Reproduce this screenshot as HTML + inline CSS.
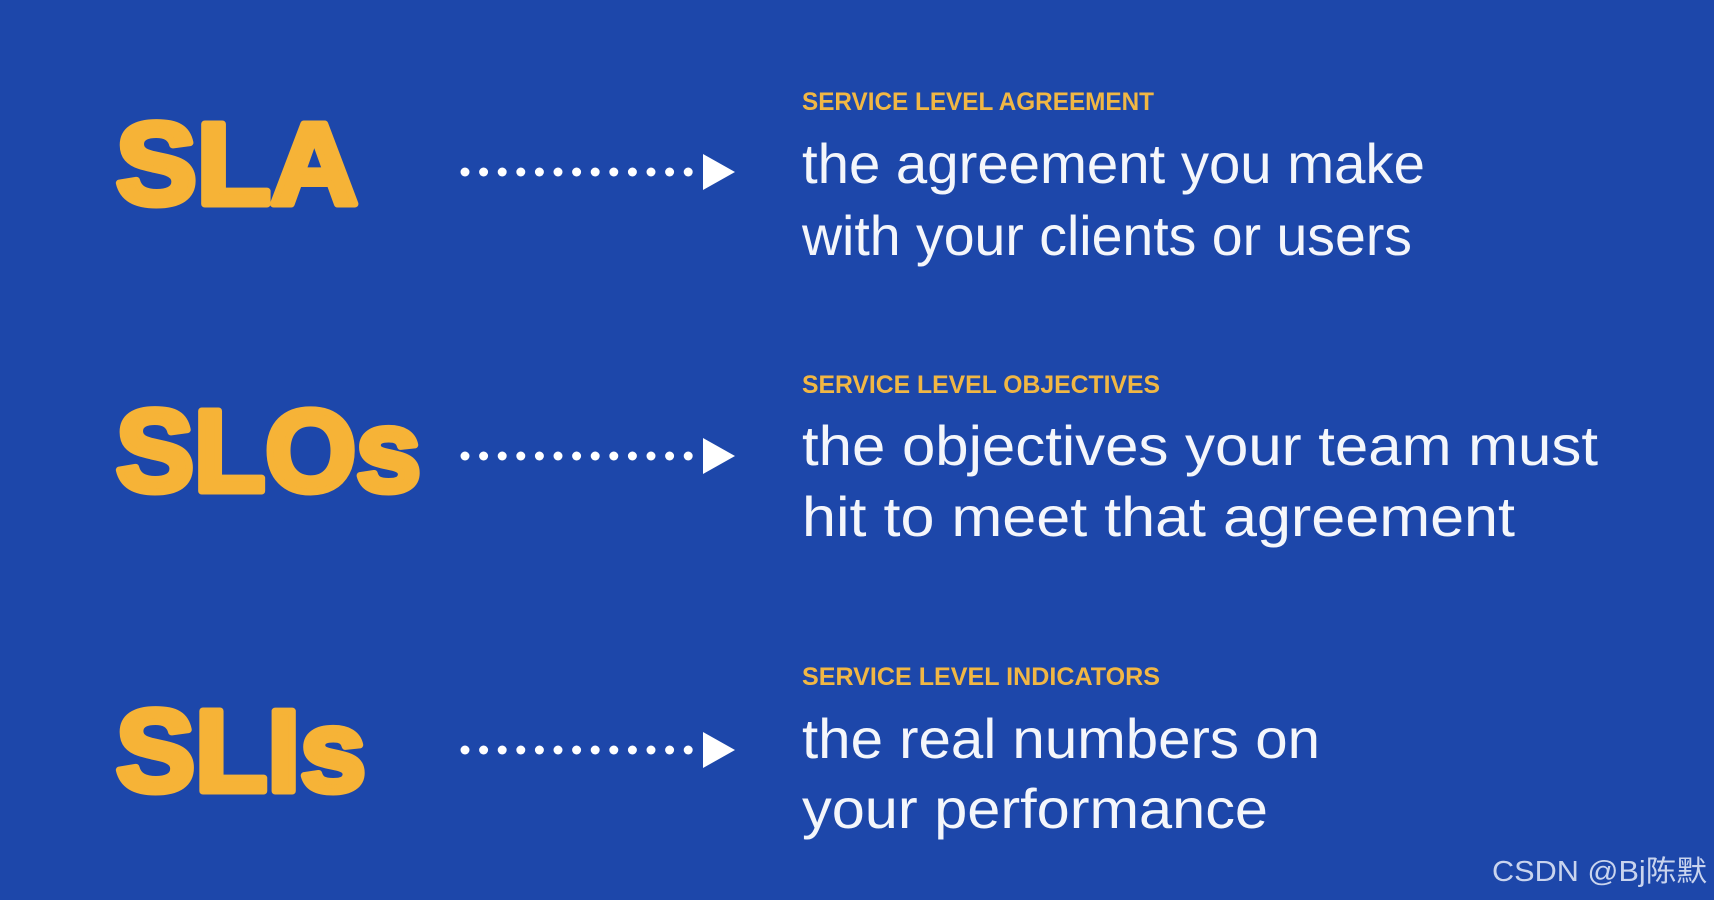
<!DOCTYPE html>
<html><head><meta charset="utf-8"><style>
html,body{margin:0;padding:0;background:#1d47aa;}
svg{display:block;}
</style></head><body>
<svg width="1714" height="900" viewBox="0 0 1714 900" xmlns="http://www.w3.org/2000/svg">
<defs>
<g id="dots" fill="#ffffff">
<circle cx="465" cy="0" r="4.5"/><circle cx="483.6" cy="0" r="4.5"/><circle cx="502.2" cy="0" r="4.5"/><circle cx="520.8" cy="0" r="4.5"/><circle cx="539.4" cy="0" r="4.5"/><circle cx="558" cy="0" r="4.5"/><circle cx="576.6" cy="0" r="4.5"/><circle cx="595.2" cy="0" r="4.5"/><circle cx="613.8" cy="0" r="4.5"/><circle cx="632.4" cy="0" r="4.5"/><circle cx="651" cy="0" r="4.5"/><circle cx="669.6" cy="0" r="4.5"/><circle cx="688.2" cy="0" r="4.5"/>
<polygon points="703,-18 735,0 703,18"/>
</g>
</defs>
<rect width="1714" height="900" fill="#1d47aa"/>
<g font-family="Liberation Sans, sans-serif" font-weight="bold" fill="#f6b337" stroke="#f6b337" stroke-width="7" stroke-linejoin="round">
<text x="116" y="204" font-size="116" textLength="242" lengthAdjust="spacingAndGlyphs">SLA</text>
<text x="116" y="491" font-size="116" textLength="305" lengthAdjust="spacingAndGlyphs">SLOs</text>
<text x="116" y="791" font-size="116" textLength="250" lengthAdjust="spacingAndGlyphs">SLIs</text>
</g>
<use href="#dots" transform="translate(0,172)"/>
<use href="#dots" transform="translate(0,456)"/>
<use href="#dots" transform="translate(0,750)"/>
<g font-family="Liberation Sans, sans-serif" font-weight="bold" fill="#f1b744" font-size="25">
<text x="802" y="110" textLength="352" lengthAdjust="spacingAndGlyphs">SERVICE LEVEL AGREEMENT</text>
<text x="802" y="393" textLength="358" lengthAdjust="spacingAndGlyphs">SERVICE LEVEL OBJECTIVES</text>
<text x="802" y="685" textLength="358" lengthAdjust="spacingAndGlyphs">SERVICE LEVEL INDICATORS</text>
</g>
<g font-family="Liberation Sans, sans-serif" fill="#f4f6fb" font-size="56">
<text x="802" y="183" textLength="623" lengthAdjust="spacingAndGlyphs">the agreement you make</text>
<text x="802" y="255" textLength="610" lengthAdjust="spacingAndGlyphs">with your clients or users</text>
<text x="802" y="465" textLength="796" lengthAdjust="spacingAndGlyphs">the objectives your team must</text>
<text x="802" y="536" textLength="713" lengthAdjust="spacingAndGlyphs">hit to meet that agreement</text>
<text x="802" y="758" textLength="518" lengthAdjust="spacingAndGlyphs">the real numbers on</text>
<text x="802" y="828" textLength="466" lengthAdjust="spacingAndGlyphs">your performance</text>
</g>
<text x="1492" y="881" font-family="Liberation Sans, Noto Sans CJK SC, sans-serif" font-size="29" fill="#c9d4ee" textLength="215" lengthAdjust="spacingAndGlyphs">CSDN @Bj陈默</text>
</svg>
</body></html>
